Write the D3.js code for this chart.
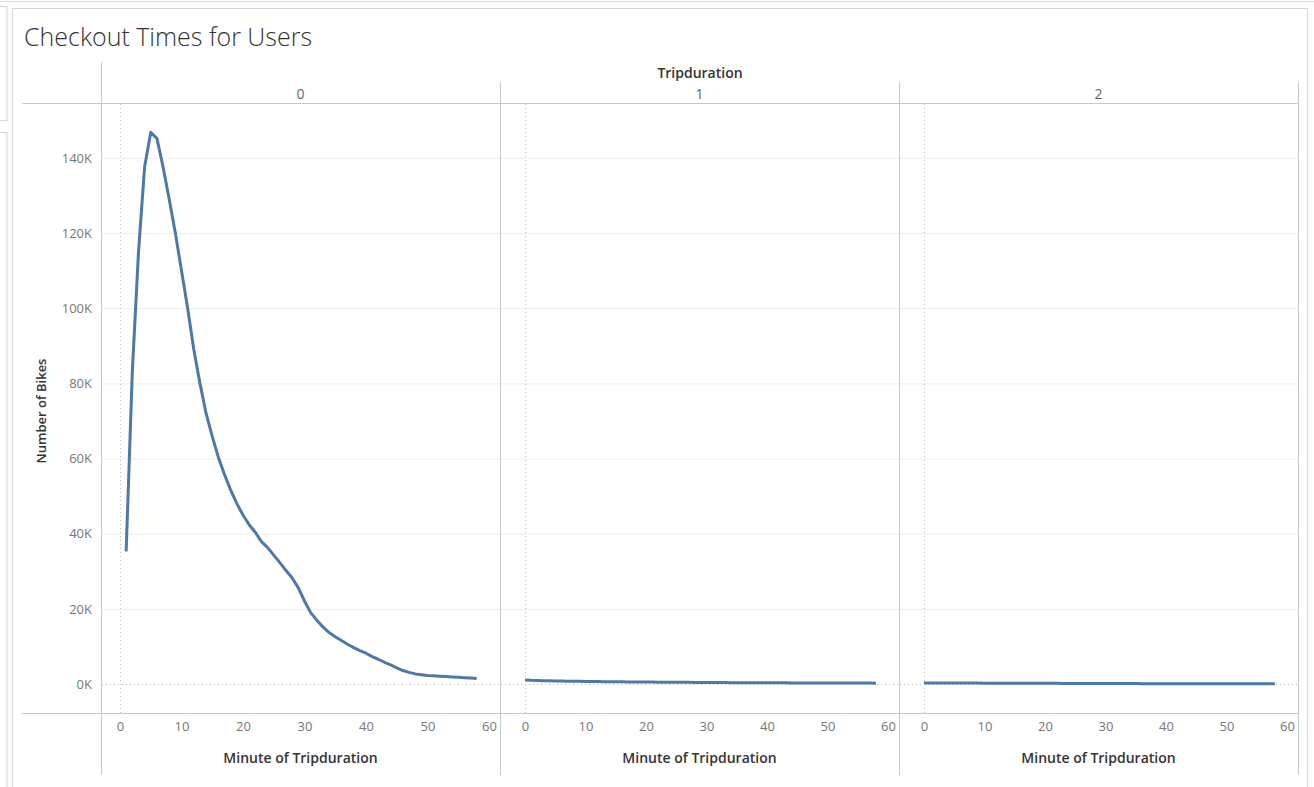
<!DOCTYPE html>
<html><head><meta charset="utf-8">
<script src="https://cdn.jsdelivr.net/npm/d3@7"></script>
<style>
body{margin:0;background:#fff;font-family:"Open Sans",Lato,sans-serif;}
</style></head>
<body><div id="app"></div>
<script>
// minute of trip duration, per hour-panel
const panels = ['0', '1', '2'];
const minutes0 = d3.range(1, 59);
const counts0 = [35300, 83000, 114700, 137600, 146800, 145200, 137600, 129000, 120000, 110000,
  100000, 89000, 80000, 72000, 65900, 60300, 55700, 51600, 48000, 45000,
  42400, 40400, 37900, 36300, 34300, 32300, 30200, 28200, 25600, 22100,
  19000, 17000, 15200, 13700, 12600, 11600, 10600, 9700, 8900, 8200,
  7300, 6600, 5800, 5100, 4300, 3600, 3100, 2700, 2500, 2300,
  2200, 2100, 2000, 1900, 1800, 1700, 1600, 1500];
const minutes12 = d3.range(0, 59);
const counts1 = [1100, 1000, 950, 900, 860, 830, 800, 770, 740, 720, 700, 680, 660, 640, 620, 600,
  590, 575, 560, 545, 530, 515, 500, 490, 480, 470, 460, 450, 440, 430, 420, 410,
  400, 390, 380, 370, 360, 350, 345, 340, 335, 330, 325, 320, 315, 310, 305, 300,
  295, 290, 285, 280, 275, 270, 265, 260, 255, 250, 245];
const counts2 = [300, 290, 285, 280, 275, 270, 265, 260, 255, 250, 245, 240, 235, 230, 225, 220,
  215, 210, 205, 200, 195, 190, 185, 180, 175, 170, 165, 160, 155, 150, 145, 140,
  135, 130, 125, 120, 115, 110, 108, 106, 104, 102, 100, 98, 96, 94, 92, 90,
  88, 86, 84, 82, 80, 78, 76, 74, 72, 70, 68];
const series = [
  minutes0.map((m, i) => [m, counts0[i]]),
  minutes12.map((m, i) => [m, counts1[i]]),
  minutes12.map((m, i) => [m, counts2[i]])
];
const yTicks = [0, 20000, 40000, 60000, 80000, 100000, 120000, 140000];
const xTicks = [0, 10, 20, 30, 40, 50, 60];

const W = 1314, H = 787;
const svg = d3.select('#app').append('svg').attr('width', W).attr('height', H);
const gray = '#c8c8c8';

// outer frame and left stubs
svg.append('rect').attr('x', 12.5).attr('y', 8.5).attr('width', 1295).attr('height', 790)
  .attr('fill', 'none').attr('stroke', '#d4d4d4');
svg.append('line').attr('x1', 0).attr('x2', 1314).attr('y1', 1.5).attr('y2', 1.5).attr('stroke', '#ddd');
svg.append('rect').attr('x', -2).attr('y', 6.5).attr('width', 9).attr('height', 114).attr('fill', 'none').attr('stroke', '#d4d4d4');
svg.append('rect').attr('x', -2).attr('y', 132.5).attr('width', 9).attr('height', 700).attr('fill', 'none').attr('stroke', '#d4d4d4');

svg.append('text').attr('x', 24).attr('y', 46).attr('font-size', 25).attr('fill', '#333')
  .attr('font-weight', 300).text('Checkout Times for Users');

const yTop = 103, yBottom = 713;
const edges = [101, 500, 899, 1298];
const padLeft = [19, 25, 25];
const y = d3.scaleLinear().domain([-7700, 154600]).range([yBottom, yTop]);

svg.append('text').attr('x', 700).attr('y', 78).attr('text-anchor', 'middle')
  .attr('font-size', 14).attr('font-weight', 600).attr('fill', '#333').text('Tripduration');

// frame lines
const L = (x1, y1, x2, y2, c = gray) => svg.append('line').attr('x1', x1).attr('y1', y1)
  .attr('x2', x2).attr('y2', y2).attr('stroke', c);
L(22, yTop + .5, 1298, yTop + .5);
L(22, yBottom + .5, 1298, yBottom + .5);
L(101.5, 62, 101.5, 775);
[500, 899, 1298].forEach(x => L(x + .5, 82, x + .5, 775));

// y axis
const yAxis = d3.axisLeft(y).tickValues(yTicks).tickSize(0).tickPadding(6)
  .tickFormat(d => d / 1000 + 'K');
const ya = svg.append('g').attr('transform', 'translate(98,0)').call(yAxis);
ya.select('.domain').remove();
ya.selectAll('text').attr('font-size', 13).attr('fill', '#777').attr('font-family', '"Open Sans",sans-serif');
svg.append('text').attr('transform', 'translate(46,411) rotate(-90)').attr('text-anchor', 'middle')
  .attr('font-size', 13).attr('font-weight', 600).attr('fill', '#333').text('Number of Bikes');

const line = d3.line().curve(d3.curveLinear);
panels.forEach((p, i) => {
  const x0 = edges[i], x1 = edges[i + 1];
  const x = d3.scaleLinear().domain([0, 60]).range([x0 + padLeft[i], x1 - 11]);
  const g = svg.append('g');
  // gridlines
  yTicks.filter(v => v > 0).forEach(v => g.append('line').attr('x1', x0 + 1).attr('x2', x1)
    .attr('y1', y(v) + .5).attr('y2', y(v) + .5).attr('stroke', '#eeeeee'));
  g.append('line').attr('x1', x0 + 1).attr('x2', x1).attr('y1', y(0) + .5).attr('y2', y(0) + .5)
    .attr('stroke', '#bbb').attr('stroke-dasharray', '1,3');
  g.append('line').attr('x1', x(0) + .5).attr('x2', x(0) + .5).attr('y1', yTop + 1).attr('y2', yBottom)
    .attr('stroke', '#bbb').attr('stroke-dasharray', '1,3');
  // panel header
  svg.append('text').attr('x', (x0 + x1) / 2).attr('y', 99).attr('text-anchor', 'middle')
    .attr('font-size', 14).attr('fill', '#666').text(p);
  // x axis
  const xa = svg.append('g').attr('transform', `translate(0,${yBottom})`)
    .call(d3.axisBottom(x).tickValues(xTicks).tickSize(0).tickPadding(9));
  xa.select('.domain').remove();
  xa.selectAll('text').attr('font-size', 13).attr('fill', '#777').attr('font-family', '"Open Sans",sans-serif');
  svg.append('text').attr('x', (x0 + x1) / 2).attr('y', 763).attr('text-anchor', 'middle')
    .attr('font-size', 14).attr('font-weight', 600).attr('fill', '#333').text('Minute of Tripduration');
  // series
  g.append('path').attr('d', line(series[i].map(d => [x(d[0]), y(d[1])])))
    .attr('fill', 'none').attr('stroke', '#4e79a7').attr('stroke-width', 3)
    .attr('stroke-linejoin', 'round');
});
</script></body></html>
